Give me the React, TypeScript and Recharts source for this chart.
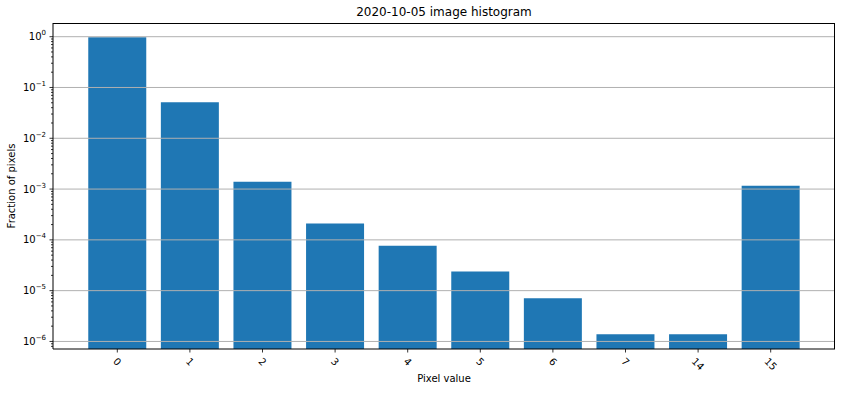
import React from "react"
import { Bar, BarChart, ReferenceLine, XAxis, YAxis } from "recharts"

const pixelValues = ["0", "1", "2", "3", "4", "5", "6", "7", "14", "15"]
const fractions = [
   0.97, 0.051, 1.39e-3, 2.09e-4, 7.7e-5, 2.39e-5, 7.06e-6, 1.39e-6, 1.39e-6, 1.16e-3,
]
const majorTicks = [1e-6, 1e-5, 1e-4, 1e-3, 1e-2, 1e-1, 1]
const minorSteps = [2, 3, 4, 5, 6, 7, 8, 9]
const yDomain = [7.1e-7, 1.86]

const data = pixelValues.map((px, i) => ({ px, frac: fractions[i] }))

const allTicks = (() => {
   const out: number[] = []
   for (let e = -7; e <= 0; e++) {
      out.push(Math.pow(10, e))
      for (const s of minorSteps) out.push(s * Math.pow(10, e))
   }
   return out.filter((v) => v >= yDomain[0] && v <= yDomain[1])
})()

const FONT = "DejaVu Sans, sans-serif"

const isMajor = (v: number) => {
   const l = Math.log10(v)
   return Math.abs(l - Math.round(l)) < 1e-9
}

const YTick = (props: any) => {
   const { x, y, payload } = props
   const v = payload.value
   const major = isMajor(v)
   const exp = Math.round(Math.log10(v))
   return (
      <g>
         <line x1={x} x2={x - (major ? 3.5 : 2)} y1={y} y2={y} stroke="#000" strokeWidth={0.8} />
         {major && (
            <text x={x - 7} y={y + 3.5} textAnchor="end" fontSize={10} fontFamily={FONT} fill="#000">
               10
               <tspan dy={-5} fontSize={7}>
                  {exp === 0 ? "0" : "\u2212" + Math.abs(exp)}
               </tspan>
            </text>
         )}
      </g>
   )
}

const XTick = (props: any) => {
   const { x, y, payload } = props
   const label = String(payload.value)
   const w = label.length * 6.4
   const h = (w + 10) * 0.707
   const cy = y + h / 2
   return (
      <text
         x={x}
         y={cy}
         textAnchor="middle"
         dominantBaseline="central"
         fontSize={10}
         fontFamily={FONT}
         fill="#000"
         transform={`rotate(45 ${x} ${cy})`}
      >
         {label}
      </text>
   )
}

export default function App() {
   return (
      <div style={{ position: "absolute", left: 0, top: 0, width: 841, height: 393, background: "#fff" }}>
         <div
            style={{
               position: "absolute",
               left: 53,
               width: 782,
               top: 5,
               textAlign: "center",
               fontFamily: FONT,
               fontSize: 12,
               color: "#000",
            }}
         >
            2020-10-05 image histogram
         </div>
         <div
            style={{
               position: "absolute",
               left: 53,
               width: 782,
               top: 373,
               textAlign: "center",
               fontFamily: FONT,
               fontSize: 10,
               color: "#000",
            }}
         >
            Pixel value
         </div>
         <div
            style={{
               position: "absolute",
               left: 11,
               top: 186,
               transform: "translate(-50%, -50%) rotate(-90deg)",
               whiteSpace: "nowrap",
               fontFamily: FONT,
               fontSize: 10,
               color: "#000",
            }}
         >
            Fraction of pixels
         </div>
         <BarChart
            width={841}
            height={393}
            data={data}
            margin={{ top: 23, right: 6, bottom: 0, left: 0 }}
            barCategoryGap="10%"
         >
            <XAxis
               dataKey="px"
               padding={{ left: 28, right: 28 }}
               height={44}
               tickSize={3.5}
               tickMargin={3.5}
               tick={<XTick />}
               interval={0}
               stroke="#000"
               axisLine={{ stroke: "#000", strokeWidth: 1 }}
               tickLine={{ stroke: "#000", strokeWidth: 0.8 }}
            />
            <YAxis
               scale="log"
               domain={yDomain}
               allowDataOverflow
               ticks={allTicks}
               interval={0}
               width={53}
               tickSize={0}
               tickMargin={0}
               tickLine={false}
               tick={<YTick />}
               axisLine={{ stroke: "#000", strokeWidth: 1 }}
            />
            <Bar dataKey="frac" fill="#1f77b4" isAnimationActive={false} />
            {majorTicks.map((t) => (
               <ReferenceLine key={t} y={t} stroke="#b0b0b0" strokeWidth={1} />
            ))}
         </BarChart>
         <div
            style={{
               position: "absolute",
               left: 53,
               top: 23,
               width: 782,
               height: 326,
               boxSizing: "border-box",
               borderTop: "1px solid #000",
               borderRight: "1px solid #000",
               pointerEvents: "none",
            }}
         />
      </div>
   )
}
